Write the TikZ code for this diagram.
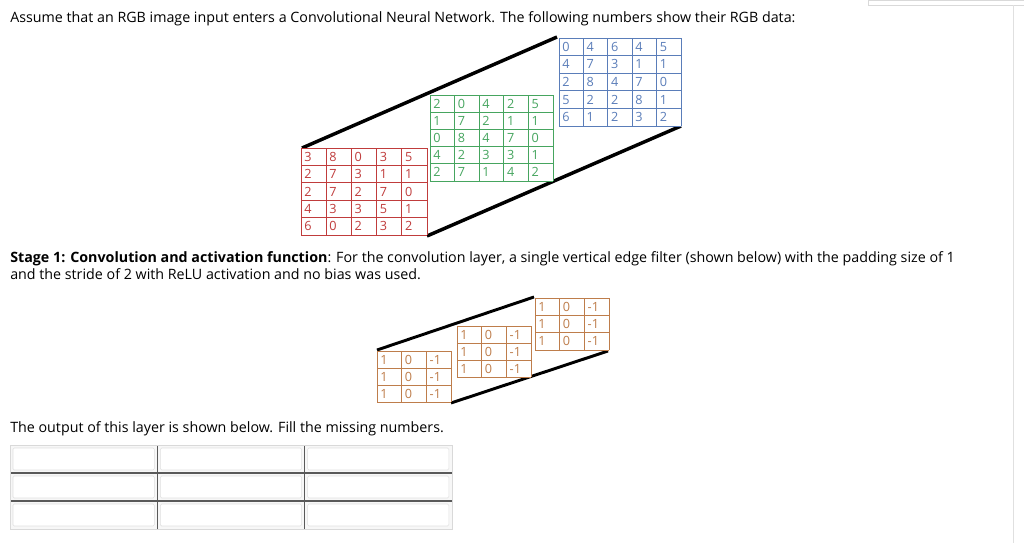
\documentclass[tikz,border=0pt]{standalone}
\usepackage{fontspec}
\setmainfont{Open Sans}
\definecolor{cred}{RGB}{192,60,60}
\definecolor{cgreen}{RGB}{70,165,95}
\definecolor{cblue}{RGB}{90,125,185}
\definecolor{cbrown}{RGB}{190,125,75}
\newcommand{\mgrid}[8]{% x0,y0,w,h,ncols,nrows,color,data
  \foreach \r [count=\i from 0] in {#8} {
    \foreach \v [count=\j from 0] in \r {
      \node[anchor=west,text=#7,font=\fontsize{9.5}{10}\selectfont,inner sep=0] (n-\i-\j) at ({#1+\j*#3+3},{#2+\i*#4+#4/2}) {\v};
    }}
  \foreach \k in {0,...,#5} \draw[#7,line width=0.6pt] ({#1+\k*#3},#2) -- ({#1+\k*#3},{#2+#6*#4});
  \foreach \k in {0,...,#6} \draw[#7,line width=0.6pt] (#1,{#2+\k*#4}) -- ({#1+#5*#3},{#2+\k*#4});
}
\begin{document}
\begin{tikzpicture}[x=0.75pt,y=-0.75pt,
  txt/.style={anchor=base west,inner sep=0,font=\fontsize{10.7}{13}\selectfont},
  thick line/.style={line width=2.6pt,black}]
\useasboundingbox (0,0) rectangle (1024,543);
\fill[white] (0,0) rectangle (1024,543);
\draw[black!15] (868,0) rectangle (1024,5);
\draw[black!12] (1013,5) -- (1013,543);
\node[txt] (t1) at (10,22) {Assume that an RGB image input enters a Convolutional Neural Network. The following numbers show their RGB data:};
\coordinate (a1) at (302,148); \coordinate (a2) at (557,37);
\coordinate (b1) at (427,236); \coordinate (b2) at (681,126);
\draw[thick line] (a1) -- (a2);
\draw[thick line] (b1) -- (b2);
\fill[white] (559,38) rectangle (681,126);
\mgrid{559}{38}{24.4}{17.6}{5}{5}{cblue}{{0,4,6,4,5},{4,7,3,1,1},{2,8,4,7,0},{5,2,2,8,1},{6,1,2,3,2}}
\fill[white] (430,95) rectangle (553,181);
\mgrid{430}{95}{24.6}{17.2}{5}{5}{cgreen}{{2,0,4,2,5},{1,7,2,1,1},{0,8,4,7,0},{4,2,3,3,1},{2,7,1,4,2}}
\fill[white] (301,148) rectangle (427,235);
\mgrid{301}{148}{25.2}{17.4}{5}{5}{cred}{{3,8,0,3,5},{2,7,3,1,1},{2,7,2,7,0},{4,3,3,5,1},{6,0,2,3,2}}
\node[txt] (t2) at (10,262) {\textbf{Stage 1: Convolution and activation function}: For the convolution layer, a single vertical edge filter (shown below) with the padding size of 1};
\node[txt] (t3) at (10,279) {and the stride of 2 with ReLU activation and no bias was used.};
\coordinate (c1) at (377,350); \coordinate (c2) at (534,297);
\coordinate (d1) at (451,403); \coordinate (d2) at (608,351);
\draw[thick line,line width=2.2pt] (c1) -- (c2);
\draw[thick line,line width=2.2pt] (d1) -- (d2);
\fill[white] (535,298) rectangle (609,350);
\mgrid{535}{298}{24.7}{17.3}{3}{3}{cbrown}{{1,0,-1},{1,0,-1},{1,0,-1}}
\fill[white] (457,326) rectangle (531,377);
\mgrid{457}{326}{24.7}{17}{3}{3}{cbrown}{{1,0,-1},{1,0,-1},{1,0,-1}}
\fill[white] (377,351) rectangle (451,402);
\mgrid{377}{351}{24.7}{17}{3}{3}{cbrown}{{1,0,-1},{1,0,-1},{1,0,-1}}
\node[txt] (t4) at (10,432) {The output of this layer is shown below. Fill the missing numbers.};
\fill[black!3] (10,445) rectangle (452,529);
\foreach \i in {0,1,2} \foreach \j in {0,1,2}
  \draw[black!12,fill=white,rounded corners=1pt] ({10+\i*147.3+3},{445+\j*28+3}) rectangle ({10+(\i+1)*147.3-3},{445+(\j+1)*28-3});
\foreach \k in {1,2} {
  \draw[black!65,line width=0.8pt] ({10+\k*147.3},445) -- ({10+\k*147.3},529);
  \draw[black!65,line width=0.8pt] (10,{445+\k*28}) -- (452,{445+\k*28});
}
\draw[black!15] (10,445) rectangle (452,529);
\end{tikzpicture}
\end{document}
